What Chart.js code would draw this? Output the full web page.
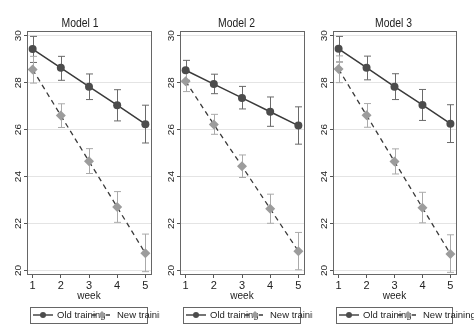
<!DOCTYPE html>
<html>
<head>
<meta charset="utf-8">
<script src="https://cdn.jsdelivr.net/npm/chart.js@4"></script>
<style>
  body { margin: 0; background: #fff; }
  #wrap { position: relative; width: 474px; height: 335px; overflow: hidden; background: #fff; }
  canvas { position: absolute; top: 0; }
</style>
</head>
<body>
<div id="wrap">
  <canvas id="panel1" width="160" height="335" style="left:0px"></canvas>
  <canvas id="panel2" width="153" height="335" style="left:160px"></canvas>
  <canvas id="panel3" width="161" height="335" style="left:313px"></canvas>
</div>
<script>
// Data (means with confidence intervals)
const weeks = [1, 2, 3, 4, 5];
const yTicks = [20, 22, 24, 26, 28, 30];
const seriesNames = ['Old training', 'New training'];
const titles = ['Model 1', 'Model 2', 'Model 3'];

const m1Old   = [29.43, 28.63, 27.83, 27.04, 26.23];
const m1OldLo = [28.86, 28.10, 27.28, 26.37, 25.43];
const m1OldHi = [29.97, 29.12, 28.37, 27.70, 27.04];
const m1New   = [28.56, 26.60, 24.65, 22.70, 20.73];
const m1NewLo = [27.98, 26.09, 24.13, 22.05, 19.95];
const m1NewHi = [29.12, 27.10, 25.19, 23.36, 21.55];

const m2Old   = [28.53, 27.94, 27.35, 26.76, 26.17];
const m2OldLo = [28.10, 27.53, 26.88, 26.14, 25.38];
const m2OldHi = [28.95, 28.36, 27.84, 27.39, 26.97];
const m2New   = [28.06, 26.22, 24.44, 22.63, 20.82];
const m2NewLo = [27.62, 25.80, 23.96, 22.01, 20.03];
const m2NewHi = [28.48, 26.65, 24.92, 23.25, 21.62];

const m3Old   = [29.44, 28.64, 27.83, 27.05, 26.25];
const m3OldLo = [28.88, 28.12, 27.28, 26.39, 25.45];
const m3OldHi = [29.97, 29.13, 28.38, 27.71, 27.06];
const m3New   = [28.58, 26.61, 24.64, 22.67, 20.70];
const m3NewLo = [28.00, 26.10, 24.11, 22.03, 19.92];
const m3NewHi = [29.14, 27.11, 25.18, 23.33, 21.52];

const FONT = "'Liberation Sans', Arial, sans-serif";
const TEXT = '#222';
const OLD_COL = '#4c4c4c';
const NEW_COL = '#9c9c9c';
const LINE_COL = '#3a3a3a';

const toXY = vals => vals.map((v, i) => ({ x: weeks[i], y: v }));

// frame, rotated y labels, title, error bars and the Stata-style legend
const stataDecor = {
    id: 'stataDecor',
    beforeDatasetsDraw(chart) {
        const { ctx, scales: { x, y } } = chart;
        chart.data.datasets.forEach(ds => {
            ctx.save();
            ctx.strokeStyle = ds.ciColor;
            ctx.lineWidth = 1;
            weeks.forEach((w, i) => {
                const px = Math.round(x.getPixelForValue(w)) + 0.5;
                const lo = y.getPixelForValue(ds.ciLo[i]);
                const hi = y.getPixelForValue(ds.ciHi[i]);
                ctx.beginPath();
                ctx.moveTo(px, lo); ctx.lineTo(px, hi);
                ctx.moveTo(px - 3.5, lo); ctx.lineTo(px + 3.5, lo);
                ctx.moveTo(px - 3.5, hi); ctx.lineTo(px + 3.5, hi);
                ctx.stroke();
            });
            ctx.restore();
        });
    },
    afterDraw(chart) {
        const { ctx, chartArea: a, scales: { y } } = chart;
        ctx.save();
        // plot frame
        ctx.strokeStyle = '#666';
        ctx.lineWidth = 1;
        ctx.strokeRect(Math.round(a.left) + 0.5, Math.round(a.top) + 0.5,
                       Math.round(a.right - a.left), Math.round(a.bottom - a.top));

        // y tick labels, rotated and a bit thin
        ctx.fillStyle = TEXT;
        ctx.font = '10px ' + FONT;
        ctx.textAlign = 'center';
        ctx.textBaseline = 'middle';
        yTicks.forEach(t => {
            ctx.save();
            ctx.translate(a.left - 8, y.getPixelForValue(t));
            ctx.rotate(-Math.PI / 2);
            ctx.scale(1, 0.85);
            ctx.fillText(String(t), 0, 0);
            ctx.restore();
        });

        // title, condensed
        ctx.save();
        ctx.translate(chart.width / 2, 23);
        ctx.scale(0.8, 1);
        ctx.font = '13px ' + FONT;
        ctx.fillText(chart.options.panelTitle, 0, 0);
        ctx.restore();

        // legend box (content overflows like the original)
        const bx = Math.round(a.left) + 3;
        const bw = Math.round(a.right - a.left) - 7;
        const by = 307, bh = 16, cy = by + bh / 2;
        ctx.fillStyle = '#fff';
        ctx.fillRect(bx, by, bw, bh);
        ctx.strokeStyle = '#666';
        ctx.strokeRect(bx + 0.5, by + 0.5, bw, bh);

        ctx.font = '9.5px ' + FONT;
        ctx.textAlign = 'left';
        // item 1: solid line + circle
        ctx.strokeStyle = LINE_COL;
        ctx.lineWidth = 1.4;
        ctx.beginPath(); ctx.moveTo(bx + 3, cy); ctx.lineTo(bx + 23, cy); ctx.stroke();
        ctx.fillStyle = OLD_COL;
        ctx.beginPath(); ctx.arc(bx + 13, cy, 3, 0, Math.PI * 2); ctx.fill();
        ctx.fillStyle = TEXT;
        ctx.fillText(seriesNames[0], bx + 27, cy + 0.5);
        // item 2: dashed line + diamond
        ctx.setLineDash([4, 3]);
        ctx.beginPath(); ctx.moveTo(bx + 62, cy); ctx.lineTo(bx + 82, cy); ctx.stroke();
        ctx.setLineDash([]);
        ctx.fillStyle = NEW_COL;
        ctx.beginPath();
        ctx.moveTo(bx + 72, cy - 4); ctx.lineTo(bx + 76, cy);
        ctx.lineTo(bx + 72, cy + 4); ctx.lineTo(bx + 68, cy);
        ctx.closePath(); ctx.fill();
        ctx.fillStyle = TEXT;
        ctx.fillText(seriesNames[1], bx + 87, cy + 0.5);
        ctx.restore();
    }
};

function makePanel(id, title, oldVals, oldLo, oldHi, newVals, newLo, newHi, plotLeft, padRight) {
    const ctx = document.getElementById(id).getContext('2d');
    return new Chart(ctx, {
        type: 'line',
        data: {
            datasets: [{
                label: seriesNames[0],
                data: toXY(oldVals),
                ciLo: oldLo, ciHi: oldHi, ciColor: '#6a6a6a',
                borderColor: LINE_COL,
                borderWidth: 1.5,
                pointStyle: 'circle',
                pointRadius: 4,
                pointBackgroundColor: OLD_COL,
                pointBorderColor: OLD_COL,
                pointBorderWidth: 0,
                tension: 0
            }, {
                label: seriesNames[1],
                data: toXY(newVals),
                ciLo: newLo, ciHi: newHi, ciColor: '#aaaaaa',
                borderColor: LINE_COL,
                borderWidth: 1.3,
                borderDash: [5, 4],
                pointStyle: 'rectRot',
                pointRadius: 5,
                pointBackgroundColor: NEW_COL,
                pointBorderColor: NEW_COL,
                pointBorderWidth: 0,
                tension: 0
            }]
        },
        options: {
            panelTitle: title,
            responsive: false,
            animation: false,
            devicePixelRatio: 1,
            layout: { padding: { left: 0, top: 31, right: padRight, bottom: 33 } },
            plugins: { legend: { display: false }, tooltip: { enabled: false }, title: { display: false } },
            scales: {
                x: {
                    type: 'linear',
                    min: 0.8, max: 5.2,
                    afterBuildTicks: s => { s.ticks = weeks.map(v => ({ value: v })); },
                    afterFit: s => { s.height = 28; },
                    grid: { drawOnChartArea: false, drawTicks: true, tickLength: 4, tickColor: '#555' },
                    border: { display: false },
                    ticks: { color: TEXT, font: { family: FONT, size: 11 }, padding: 1, maxRotation: 0 },
                    title: { display: true, text: 'week', color: TEXT, font: { family: FONT, size: 10 }, padding: 0 }
                },
                y: {
                    min: 19.85, max: 30.2,
                    afterBuildTicks: s => { s.ticks = yTicks.map(v => ({ value: v })); },
                    afterFit: s => { s.width = plotLeft; },
                    grid: { color: '#e4e4e4', tickLength: 3, tickColor: '#555' },
                    border: { display: false },
                    ticks: { display: false }
                }
            }
        },
        plugins: [stataDecor]
    });
}

makePanel('panel1', titles[0], m1Old, m1OldLo, m1OldHi, m1New, m1NewLo, m1NewHi, 27, 9);
makePanel('panel2', titles[1], m2Old, m2OldLo, m2OldHi, m2New, m2NewLo, m2NewHi, 20, 9);
makePanel('panel3', titles[2], m3Old, m3OldLo, m3OldHi, m3New, m3NewLo, m3NewHi, 20, 18);
</script>
</body>
</html>
